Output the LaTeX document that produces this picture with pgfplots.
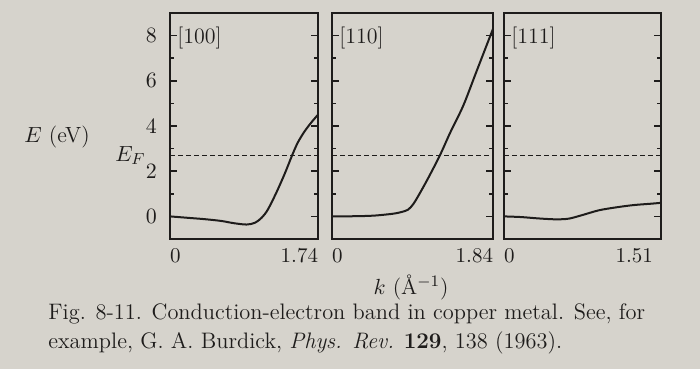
\documentclass[border=0pt]{standalone}
\usepackage{pgfplots}
\pgfplotsset{compat=1.18}
\definecolor{paper}{RGB}{214,211,204}
\definecolor{ink}{RGB}{30,28,27}
\begin{document}
\begin{tikzpicture}
\fill[paper] (0pt,0pt) rectangle (350pt,184.5pt);
\pgfplotsset{
 panel/.style={
  scale only axis, height=113pt, ymin=-1, ymax=9, xmin=0,
  anchor=south west,
  axis line style={line width=0.9pt,ink},
  ytick={0,2,4,6,8}, minor ytick={1,3,5,7},
  yticklabel pos=left, xticklabel pos=lower,
  tick align=inside, tick pos=both,
  major tick length=3.5pt, minor tick length=2pt,
  ytick style={ink, line width=0.8pt},
  every minor tick/.append style={ink, line width=0.8pt},
  xtick style={draw=none},
  tick label style={font=\fontsize{10.5}{12}\selectfont, text=ink},
  yticklabel style={xshift=-3pt},
  xticklabel style={yshift=-1pt},
  clip=false,
 },
 curve/.style={ink, line width=1pt, smooth, tension=0.5},
 ef/.style={ink, line width=0.8pt, dash pattern=on 2.5pt off 1.5pt},
}
% [100]
\begin{axis}[panel, at={(85pt,65pt)}, width=74pt, xmax=1.74,
  xtick={0,1.74}, xticklabels={\rlap{0},\llap{1.74}}]
\addplot[ef] coordinates {(0,2.7) (1.74,2.7)};
\addplot[curve] coordinates {(0,0) (0.2,-0.06) (0.4,-0.12) (0.6,-0.2) (0.75,-0.3) (0.9,-0.36) (1.0,-0.28) (1.08,-0.05) (1.15,0.3) (1.25,1.05) (1.35,1.9) (1.43,2.65) (1.5,3.25) (1.58,3.75) (1.66,4.15) (1.74,4.5)};
\node[anchor=north west, inner sep=0pt, font=\fontsize{11}{12}\selectfont, text=ink] at (rel axis cs:0,1) [xshift=3.5pt, yshift=-7pt] {[100]};
\node[anchor=east, inner sep=0pt, font=\fontsize{11}{12}\selectfont, text=ink] at (axis cs:0,2.7) [xshift=-12pt] {$E_F$};
\end{axis}
% [110]
\begin{axis}[panel, at={(166pt,65pt)}, width=80.5pt, xmax=1.84, yticklabels={},
  xtick={0,1.84}, xticklabels={\rlap{0},\llap{1.84}}]
\addplot[ef] coordinates {(0,2.7) (1.84,2.7)};
\addplot[curve] coordinates {(0,0) (0.3,0.01) (0.5,0.04) (0.7,0.12) (0.8,0.2) (0.87,0.3) (0.93,0.55) (1.0,1.0) (1.1,1.7) (1.233,2.7) (1.35,3.7) (1.5,4.9) (1.65,6.4) (1.84,8.3)};
\node[anchor=north west, inner sep=0pt, font=\fontsize{11}{12}\selectfont, text=ink] at (rel axis cs:0,1) [xshift=3.5pt, yshift=-7pt] {[110]};
\end{axis}
% [111]
\begin{axis}[panel, at={(252pt,65pt)}, width=78.5pt, xmax=1.82, yticklabels={},
  xtick={0,1.51}, xticklabels={\rlap{0},1.51}]
\addplot[ef] coordinates {(0,2.7) (1.82,2.7)};
\addplot[curve] coordinates {(0,0) (0.2,-0.03) (0.4,-0.09) (0.6,-0.13) (0.75,-0.1) (0.9,0.05) (1.1,0.27) (1.3,0.4) (1.5,0.5) (1.7,0.56) (1.82,0.6)};
\node[anchor=north west, inner sep=0pt, font=\fontsize{11}{12}\selectfont, text=ink] at (rel axis cs:0,1) [xshift=3.5pt, yshift=-7pt] {[111]};
\end{axis}
\node[text=ink, font=\fontsize{11}{12}\selectfont] at (28.5pt,116pt) {$E$ (eV)};
\node[text=ink, font=\fontsize{11}{12}\selectfont] at (205.5pt,41pt) {$k$ (\AA$^{-1}$)};
\node[anchor=base west, inner sep=0pt, text=ink, font=\fontsize{11.2}{14}\selectfont] at (24pt,24.5pt) {Fig. 8-11. Conduction-electron band in copper metal. See, for};
\node[anchor=base west, inner sep=0pt, text=ink, font=\fontsize{11.2}{14}\selectfont] at (24pt,10.5pt) {example, G. A. Burdick, \textit{Phys. Rev.} \textbf{129}, 138 (1963).};
\end{tikzpicture}
\end{document}
